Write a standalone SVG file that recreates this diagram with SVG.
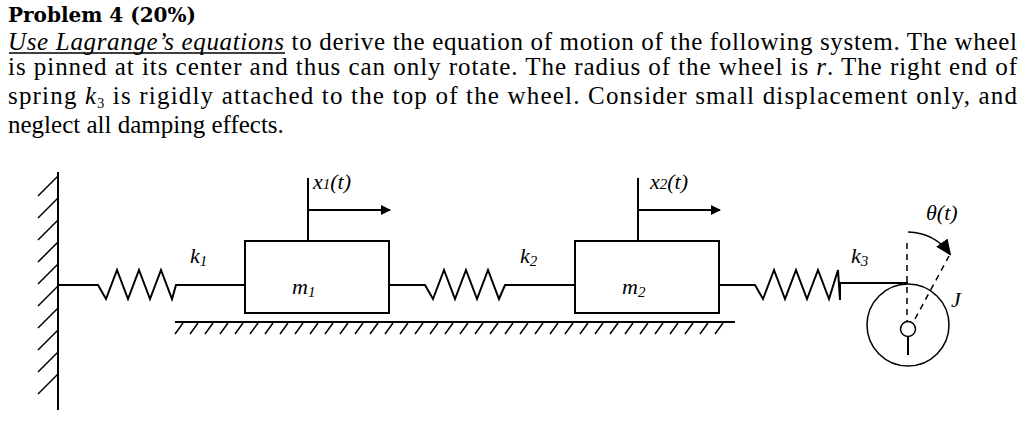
<svg xmlns="http://www.w3.org/2000/svg" width="1030" height="425" viewBox="0 0 1030 425">
<defs>
<style>
.t{font-family:"Liberation Serif","Times New Roman",serif;font-size:25px;fill:#000}
.lb{font-family:"Liberation Serif","Times New Roman",serif;font-size:22px;font-style:italic;fill:#000}
.s{fill:none;stroke:#000;stroke-width:2}
.h{stroke:#000;stroke-width:1.5}
</style>
<marker id="ah" markerWidth="10" markerHeight="10" refX="9" refY="5" orient="auto" markerUnits="userSpaceOnUse"><path d="M0,0 L10,5 L0,10z" fill="#000"/></marker>
<marker id="ah2" markerWidth="16" markerHeight="14" refX="14" refY="7" orient="auto" markerUnits="userSpaceOnUse"><path d="M0,0 L16,7 L0,14z" fill="#000"/></marker>
</defs>
<rect width="1030" height="425" fill="#fff"/>
<text x="8" y="22" style="font-family:'DejaVu Serif',serif;font-size:20px;font-weight:bold">Problem 4 (20%)</text>
<text class="t" x="8" y="50" textLength="1009" lengthAdjust="spacing"><tspan font-style="italic">Use Lagrange’s equations</tspan> to derive the equation of motion of the following system.  The wheel</text>
<line x1="9" y1="53" x2="285" y2="53" stroke="#000" stroke-width="1.3"/>
<text class="t" x="8" y="75" textLength="1009" lengthAdjust="spacing">is pinned at its center and thus can only rotate.  The radius of the wheel is <tspan font-style="italic">r</tspan>.  The right end of</text>
<text class="t" x="8" y="104" textLength="1009" lengthAdjust="spacing">spring  <tspan font-style="italic">k</tspan><tspan font-size="14" dy="4">3</tspan><tspan dy="-4">  is rigidly attached to the top of the wheel.  Consider small displacement only, and</tspan></text>
<text class="t" x="8" y="133">neglect all damping effects.</text>

<g id="wall">
<line class="s" x1="58" y1="172" x2="58" y2="410"/>
<path class="h" d="M38,196 L58,176 M38,218 L58,198 M38,240 L58,220 M38,262 L58,242 M38,284 L58,264 M38,306 L58,286 M38,328 L58,308 M38,350 L58,330 M38,372 L58,352 M38,394 L58,374"/>
</g>
<g id="ground">
<line class="s" x1="175" y1="322" x2="735" y2="322"/>
<path class="h" d="M175,334 L183,323 M190,334 L198,323 M205,334 L213,323 M220,334 L228,323 M235,334 L243,323 M250,334 L258,323 M265,334 L273,323 M280,334 L288,323 M295,334 L303,323 M310,334 L318,323 M325,334 L333,323 M340,334 L348,323 M355,334 L363,323 M370,334 L378,323 M385,334 L393,323 M400,334 L408,323 M415,334 L423,323 M430,334 L438,323 M445,334 L453,323 M460,334 L468,323 M475,334 L483,323 M490,334 L498,323 M505,334 L513,323 M520,334 L528,323 M535,334 L543,323 M550,334 L558,323 M565,334 L573,323 M580,334 L588,323 M595,334 L603,323 M610,334 L618,323 M625,334 L633,323 M640,334 L648,323 M655,334 L663,323 M670,334 L678,323 M685,334 L693,323 M700,334 L708,323 M715,334 L723,323"/>
</g>
<g id="connectors">
<path class="s" d="M58,285 L98,285 L106,299 L117,270 L128,299 L139,270 L150,299 L161,270 L172,299 L176,285 L245,285"/>
<path class="s" d="M389,285 L425,285 L433,299 L444,270 L455,299 L466,270 L477,299 L488,270 L499,299 L505,285 L575,285"/>
<path class="s" d="M719,285 L755,285 L763,299 L774,270 L785,299 L796,270 L807,299 L818,270 L829,299 L838,270 L840,300 L840,283 L908,283"/>
<line class="s" x1="308" y1="178" x2="308" y2="241"/>
<line class="s" x1="308" y1="210" x2="390" y2="210" marker-end="url(#ah)"/>
<line class="s" x1="638" y1="178" x2="638" y2="241"/>
<line class="s" x1="638" y1="210" x2="720" y2="210" marker-end="url(#ah)"/>
</g>
<g id="m1"><rect class="s" x="245" y="241" width="144" height="72" fill="#fff"/><text class="lb" x="292" y="294">m<tspan font-size="15" dy="3">1</tspan></text></g>
<g id="m2"><rect class="s" x="575" y="241" width="144" height="72" fill="#fff"/><text class="lb" x="622" y="294">m<tspan font-size="15" dy="3">2</tspan></text></g>
<g id="wheel">
<circle cx="908" cy="325" r="41" fill="none" stroke="#000" stroke-width="1.5"/>
<circle cx="908" cy="329" r="7.5" fill="#fff" stroke="#000" stroke-width="1.5"/>
<line class="s" x1="908" y1="337" x2="908" y2="355"/>
<line x1="907" y1="243" x2="907" y2="322" stroke="#000" stroke-width="1.5" stroke-dasharray="6,5"/>
<line x1="915" y1="319" x2="949" y2="256" stroke="#000" stroke-width="1.5" stroke-dasharray="6,5"/>
<path d="M908,232 Q935,233 950,254" fill="none" stroke="#000" stroke-width="1.5" marker-end="url(#ah2)"/>
</g>
<g id="labels">
<text class="lb" x="190" y="263">k<tspan font-size="15" dy="3">1</tspan></text>
<text class="lb" x="520" y="263">k<tspan font-size="15" dy="3">2</tspan></text>
<text class="lb" x="851" y="263">k<tspan font-size="15" dy="3">3</tspan></text>
<text class="lb" x="313" y="189">x<tspan font-size="15">1</tspan>(t)</text>
<text class="lb" x="650" y="189">x<tspan font-size="15">2</tspan>(t)</text>
<text class="lb" x="926" y="220">θ(t)</text>
<text class="lb" x="951" y="307">J</text>
</g>
</svg>
